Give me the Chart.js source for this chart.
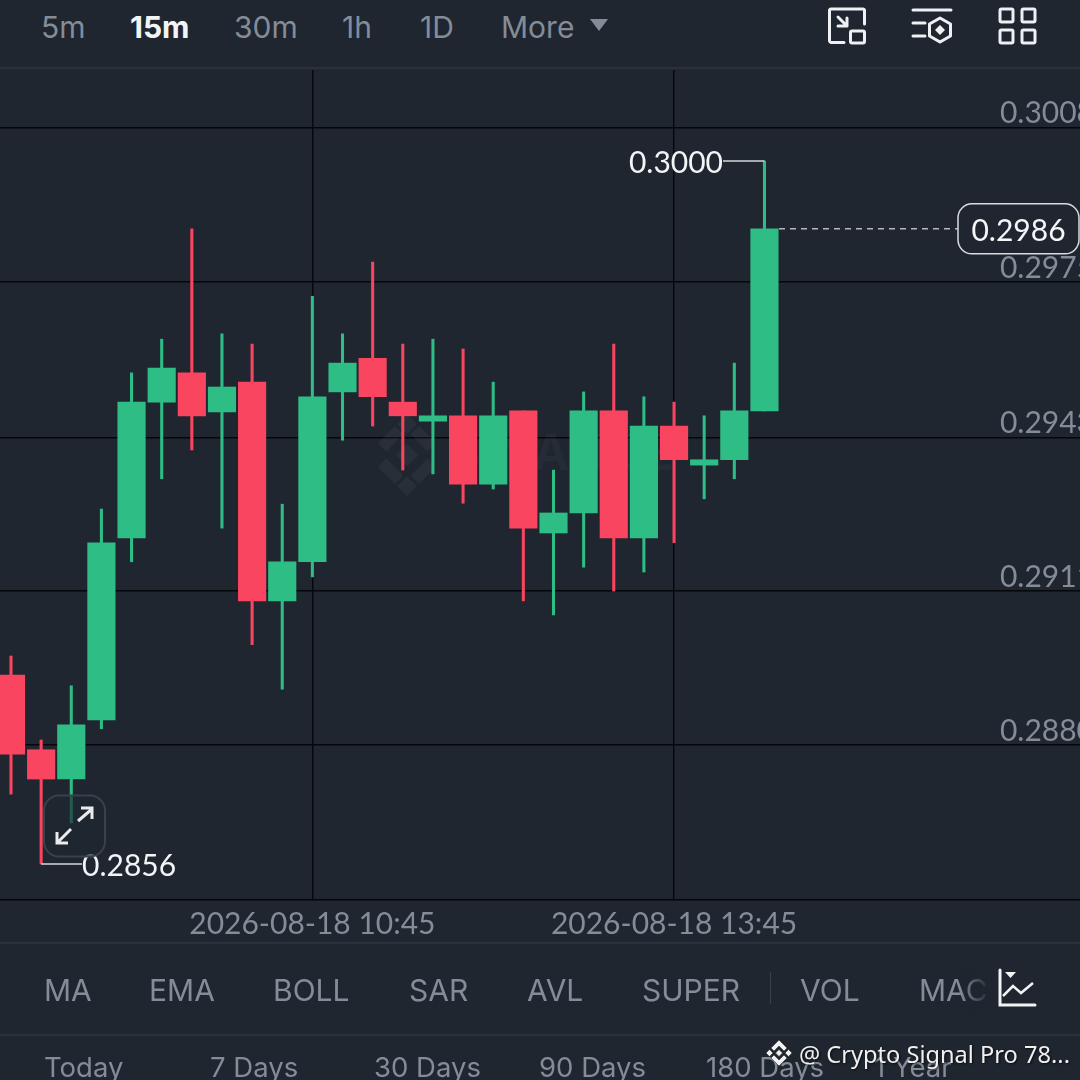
<!DOCTYPE html>
<html>
<head>
<meta charset="utf-8">
<script src="https://cdn.jsdelivr.net/npm/chart.js@4"></script>
<style>
  html, body { margin: 0; padding: 0; background: #1f2630; }
  #page { position: relative; width: 1080px; height: 1080px; overflow: hidden; background: #1f2630; font-family: Inter, sans-serif; }
  #wrap { position: absolute; left: 0; top: 70px; width: 1080px; height: 872px; }
  .t { position: absolute; color: #848c98; font-size: 30px; line-height: 34px; white-space: nowrap; }
  .b { font-size: 27.5px; top: 1050px; }
  .hr { position: absolute; left: 0; width: 1080px; height: 2px; background: #2a313b; }
  svg { position: absolute; overflow: visible; }
</style>
</head>
<body>
<div id="page">
  <div id="wrap"><canvas id="chart" width="1080" height="872"></canvas></div>

  <div class="hr" style="top:67px"></div>
  <div class="hr" style="top:942px"></div>
  <div class="hr" style="top:1034px"></div>

  <div class="t" style="left:41px;top:10px">5m</div>
  <div class="t" style="left:130px;top:10px;color:#f2f4f6;font-weight:700">15m</div>
  <div class="t" style="left:234px;top:10px">30m</div>
  <div class="t" style="left:342px;top:10px">1h</div>
  <div class="t" style="left:420px;top:10px">1D</div>
  <div class="t" style="left:501px;top:10px">More</div>
  <svg style="left:0;top:0" width="1080" height="70">
    <path d="M590 19H608L599 31Z" fill="#848c98"/>
    <g fill="none" stroke="#eef0f3" stroke-width="3" stroke-linecap="round" stroke-linejoin="round">
      <path d="M844 42.5H831A2 2 0 0 1 829.5 41V10A2 2 0 0 1 831 9H863A2 2 0 0 1 864.5 10V24"/>
      <rect x="850.5" y="31" width="14" height="12" rx="1.5"/>
      <path d="M838 17L847 26M847 18V26H838"/>
      <path d="M913 10H951M913 23H925M913 36H925"/>
      <path d="M940 18L950.5 24V36L940 42L929.5 36V24Z"/>
      <rect x="1000" y="9" width="13" height="13" rx="1.5"/>
      <rect x="1022" y="9" width="13" height="13" rx="1.5"/>
      <rect x="1000" y="30" width="13" height="13" rx="1.5"/>
      <rect x="1022" y="30" width="13" height="13" rx="1.5"/>
    </g>
    <path d="M940 25L945 30L940 35L935 30Z" fill="#eef0f3"/>
  </svg>

  <svg style="left:0;top:0" width="1080" height="1080">
    <rect x="44" y="795.5" width="61" height="61" rx="15" fill="#1f2630" fill-opacity=".65" stroke="#3a414c" stroke-width="2"/>
    <g fill="none" stroke="#e9ebee" stroke-width="3">
      <path d="M78 821L92 809M81 808H92V819"/>
      <path d="M71 829L57 843M57 832V843H68"/>
    </g>
  </svg>

  <div class="t" style="left:44px;top:973px">MA</div>
  <div class="t" style="left:149px;top:973px">EMA</div>
  <div class="t" style="left:273px;top:973px">BOLL</div>
  <div class="t" style="left:409px;top:973px">SAR</div>
  <div class="t" style="left:527px;top:973px">AVL</div>
  <div class="t" style="left:642px;top:973px">SUPER</div>
  <div style="position:absolute;left:770px;top:972px;width:1px;height:32px;background:#39404a"></div>
  <div class="t" style="left:800px;top:973px">VOL</div>
  <div class="t" style="left:919px;top:973px">MACD</div>
  <div style="position:absolute;left:960px;top:965px;width:120px;height:50px;background:linear-gradient(90deg,rgba(31,38,48,0) 0,#1f2630 30px)"></div>
  <svg style="left:0;top:0" width="1080" height="1080">
    <path d="M1000 970V1005H1035" fill="none" stroke="#f1f3f5" stroke-width="3" stroke-linecap="round"/>
    <path d="M1003 996L1013 986L1021 993L1033 983" fill="none" stroke="#f1f3f5" stroke-width="2.5"/>
    <path d="M1005 972H1016L1010.5 978Z" fill="#f1f3f5"/>
  </svg>

  <div class="t b" style="left:44px">Today</div>
  <div class="t b" style="left:210px">7 Days</div>
  <div class="t b" style="left:374px">30 Days</div>
  <div class="t b" style="left:539px">90 Days</div>
  <div class="t b" style="left:706px">180 Days</div>
  <div class="t b" style="left:874px">1 Year</div>

  <svg style="left:0;top:0" width="1080" height="1080">
    <g fill="#f1f1f1" stroke="#333" stroke-width=".6">
      <path d="M779 1040L787 1048L784 1051L779 1046L774 1051L771 1048Z"/>
      <path d="M766 1053L769.5 1049.5L773 1053L769.5 1056.5Z"/>
      <path d="M779 1049.5L782.5 1053L779 1056.5L775.5 1053Z"/>
      <path d="M792 1053L788.5 1049.5L785 1053L788.5 1056.5Z"/>
      <path d="M779 1066L771 1058L774 1055L779 1060L784 1055L787 1058Z"/>
    </g>
  </svg>
  <div class="t" style="left:799px;top:1037px;color:#f0f0f0;font-family:'Noto Sans';font-size:23.6px;text-shadow:1px 1px 2px rgba(0,0,0,.7)">@ Crypto Signal Pro 78...</div>
</div>

<script>
// candles, 15m apart, oldest first
const times = ['08:15','08:30','08:45','09:00','09:15','09:30','09:45','10:00','10:15','10:30','10:45','11:00','11:15',
  '11:30','11:45','12:00','12:15','12:30','12:45','13:00','13:15','13:30','13:45','14:00','14:15','14:30'];
const opens  = [.28947,.28794,.28734,.28855,.29228,.29506,.29566,.29486,.29547,.29099,.29179,.29527,.29596,
  .29506,.29467,.29478,.29338,.29488,.29238,.29279,.29488,.29228,.29457,.29377,.29388,.29488];
const closes = [.28785,.28734,.28845,.29218,.29506,.29576,.29478,.29537,.29099,.29179,.29517,.29586,.29517,
  .29478,.29478,.29338,.29478,.29248,.29279,.29488,.29228,.29457,.29388,.29388,.29488,.29861];
const highs  = [.28986,.28814,.28925,.29287,.29566,.29635,.29861,.29646,.29625,.29297,.29723,.29646,.29793,
  .29625,.29635,.29615,.29547,.29488,.29367,.29527,.29625,.29517,.29506,.29478,.29586,.30000];
const lows   = [.28703,.2856,.28644,.28837,.29179,.29349,.29408,.29248,.29009,.28918,.29148,.29428,.29457,
  .29367,.29359,.29299,.29328,.29099,.2907,.29168,.29119,.29158,.29218,.29308,.29349,.29488];

const yTickValues = [.30068,.29752,.29434,.29119,.28804];
const yTickLabels = ['0.3008','0.2975','0.2943','0.2911','0.2880'];
const xTickIndexes = [10,22];
const dayLabel = '2026-08-18';
const lastPrice = .29861;
const highPoint = {i:25, v:.30000, text:'0.3000'};
const lowPoint = {i:1, v:.2856, text:'0.2856'};

const GREEN = '#2ebd85';
const RED = '#f9455f';
const isUp = i => closes[i] >= opens[i];
const colors = times.map((t,i) => isUp(i) ? GREEN : RED);

// watermark, price markers and last price box
const overlays = {
  id: 'overlays',
  beforeDatasetsDraw(chart) {
    const c = chart.ctx;
    c.save();
    c.fillStyle = 'rgba(255,255,255,0.045)';
    c.translate(407, 385);
    c.rotate(Math.PI/4);
    c.fillRect(-8,-8,16,16);
    c.fillRect(-29,-29,14,14);
    c.fillRect(15,15,14,14);
    c.fillRect(-29,-12,12,24);
    c.fillRect(-12,-29,24,12);
    c.fillRect(17,-12,12,24);
    c.fillRect(-12,17,24,12);
    c.restore();
    c.save();
    c.fillStyle = 'rgba(255,255,255,0.03)';
    c.font = '600 50px Inter';
    c.textBaseline = 'middle';
    c.fillText('BINANCE', 448, 385);
    c.restore();
  },
  afterDraw(chart) {
    const c = chart.ctx, x = chart.scales.x, y = chart.scales.y;
    c.save();
    c.font = '30px Lato';
    c.textBaseline = 'middle';
    c.fillStyle = '#f2f4f6';
    c.strokeStyle = '#d5d7da';
    c.lineWidth = 1.5;

    const hx = x.getPixelForValue(highPoint.i), hy = y.getPixelForValue(highPoint.v);
    c.beginPath(); c.moveTo(hx, hy); c.lineTo(723, hy); c.stroke();
    c.textAlign = 'right';
    c.fillText(highPoint.text, 723, hy + 2);

    const lx = x.getPixelForValue(lowPoint.i), ly = y.getPixelForValue(lowPoint.v);
    c.beginPath(); c.moveTo(lx, ly); c.lineTo(82, ly); c.stroke();
    c.textAlign = 'left';
    c.fillText(lowPoint.text, 82, ly + 2);

    const py = y.getPixelForValue(lastPrice);
    c.setLineDash([6, 5]);
    c.strokeStyle = '#b5b8bd';
    c.beginPath(); c.moveTo(779, py); c.lineTo(958, py); c.stroke();
    c.setLineDash([]);
    c.beginPath();
    c.roundRect(958, py - 25, 121, 50, 14);
    c.fillStyle = '#1f2630';
    c.fill();
    c.strokeStyle = '#d9dbde';
    c.stroke();
    c.fillStyle = '#f5f6f7';
    c.textAlign = 'center';
    c.fillText(lastPrice.toFixed(4), 1018.5, py + 2);
    c.restore();
  }
};

new Chart(document.getElementById('chart'), {
  type: 'bar',
  data: {
    datasets: [
      {
        data: times.map((t,i) => ({x:i, y:[lows[i], highs[i]]})),
        backgroundColor: colors,
        barThickness: 2.4,
        grouped: false,
        order: 2
      },
      {
        data: times.map((t,i) => ({x:i, y:[opens[i], closes[i]]})),
        backgroundColor: colors,
        barThickness: 27.5,
        grouped: false,
        order: 1
      }
    ]
  },
  plugins: [overlays],
  options: {
    responsive: false,
    animation: false,
    events: [],
    layout: {padding: 0},
    plugins: {legend: {display: false}, tooltip: {enabled: false}},
    scales: {
      x: {
        type: 'linear',
        offset: false,
        min: -0.365,
        max: 35.47,
        afterBuildTicks: s => { s.ticks = xTickIndexes.map(value => ({value})); },
        afterFit: s => { s.height = 42; s.paddingLeft = 0; s.paddingRight = 0; },
        grid: {color: '#05070a', lineWidth: 1.4, offset: false, drawTicks: false},
        border: {color: '#05070a', width: 1.4},
        ticks: {
          autoSkip: false,
          maxRotation: 0,
          padding: 6,
          color: '#848c98',
          font: {family: 'Lato', size: 30},
          callback: v => dayLabel + ' ' + times[v]
        }
      },
      y: {
        position: 'right',
        min: .284862,
        max: .301864,
        afterBuildTicks: s => { s.ticks = yTickValues.map(value => ({value})); },
        afterFit: s => { s.width = 0; s.paddingTop = 0; s.paddingBottom = 0; },
        grid: {color: '#05070a', lineWidth: 1.4, drawTicks: false},
        border: {display: false},
        ticks: {
          mirror: true,
          padding: 14,
          labelOffset: -14,
          autoSkip: false,
          color: '#848c98',
          font: {family: 'Lato', size: 30},
          callback: (v, i) => yTickLabels[i]
        }
      }
    }
  }
});
</script>
</body>
</html>
